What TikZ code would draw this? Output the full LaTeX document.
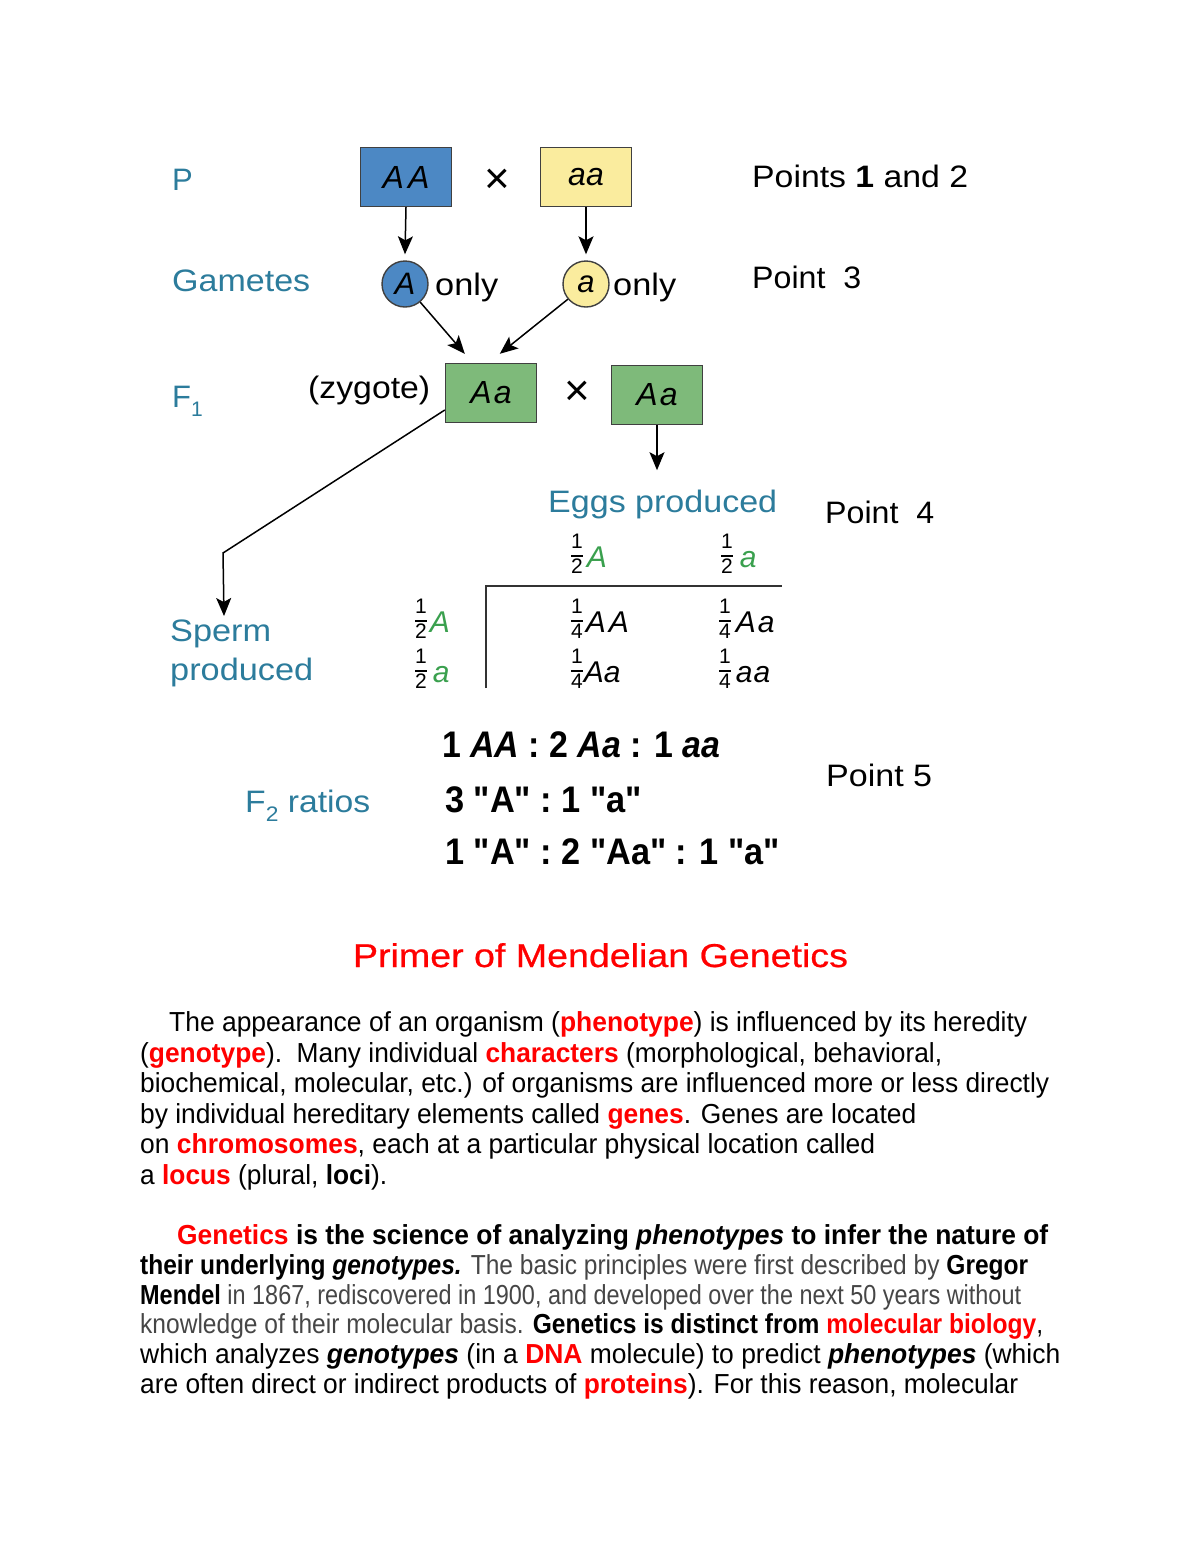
\documentclass[tikz,border=0pt]{standalone}
\usepackage{fontspec}
\setmainfont{Liberation Sans}
\usetikzlibrary{arrows.meta,calc}
\definecolor{tealc}{RGB}{44,124,156}
\definecolor{bluec}{RGB}{76,136,196}
\definecolor{yelc}{RGB}{250,236,158}
\definecolor{grnc}{RGB}{126,186,122}
\definecolor{grnt}{RGB}{58,160,78}
\definecolor{redc}{RGB}{255,0,0}
\definecolor{lightc}{RGB}{70,70,70}
\newcommand\fs[1]{\fontsize{#1}{#1}\selectfont}
\newcommand\W[2]{\resizebox{#1pt}{\height}{#2}}
\newcommand\fr[2]{\raisebox{-6pt}{\fs{21}\renewcommand\arraystretch{1.12}\setlength\arrayrulewidth{1.2pt}\begin{tabular}[b]{@{}c@{}}#1\\\hline#2\end{tabular}}}
\newcommand\rb[1]{\textcolor{redc}{\bfseries #1}}
\newcommand\lt[1]{\textcolor{lightc}{#1}}
\newcommand\bi[1]{\textbf{\textit{#1}}}
\begin{document}
\begin{tikzpicture}[x=1pt,y=-1pt,
  lbl/.style={inner sep=0,anchor=base west,text=tealc,font=\fs{31}},
  txt/.style={inner sep=0,anchor=base west,font=\fs{31}},
  ent/.style={inner sep=0,anchor=base west,font=\fs{30}},
  par/.style={inner sep=0,anchor=base west,font=\fs{27.5}},
  gbox/.style={draw=black!75,line width=1.4pt,minimum width=91pt,minimum height=59pt,inner sep=0,font=\fs{32}\itshape},
  gcirc/.style={circle,draw=black!75,line width=1.4pt,minimum size=46pt,inner sep=0,font=\fs{31}\itshape},
  cross/.style={inner sep=0,font=\fs{44}},
  arr/.style={-{Stealth[length=18pt,width=15pt,inset=4pt]},line width=1.5pt},
  gridl/.style={line width=1.2pt,draw=black!80}]
\useasboundingbox[fill=white] (0,0) rectangle (1200,1553);

% P row
\node[lbl] (P) at (172,190) {P};
\node[gbox,fill=bluec] (AA) at (406,177) {A\hspace{4pt}A};
\node[cross] (x1) at (497,181) {×};
\node[gbox,fill=yelc] (aa) at (586,177) {aa};
\node[txt] (p12) at (752,187) {\W{216}{Points \textbf{1} and 2}};

% Gametes row
\node[lbl] (gam) at (172,291) {\W{138}{Gametes}};
\node[gcirc,fill=bluec] (cA) at (405,284) {A};
\node[txt] (o1) at (435,295) {\W{63}{only}};
\node[gcirc,fill=yelc] (ca) at (586,284) {a};
\node[txt] (o2) at (613,295) {\W{63}{only}};
\node[txt] (p3) at (752,288) {\W{109}{Point\ \ 3}};

\draw[arr] (AA.south) -- ($(cA.north)+(0,-6)$);
\draw[arr] (aa.south) -- ($(ca.north)+(0,-6)$);

% F1 row
\node[lbl] (F1) at (172,407) {F\raisebox{-9pt}{\fs{21}1}};
\node[txt] (zyg) at (308,398) {\W{122}{(zygote)}};
\node[gbox,fill=grnc] (Aa1) at (491,393) {A\hspace{2pt}a};
\node[cross] (x2) at (577,393) {×};
\node[gbox,fill=grnc] (Aa2) at (657,395) {A\hspace{2pt}a};

\draw[arr] (cA.-50) -- ($(Aa1.north west)+(20,-9)$);
\draw[arr] (ca.-140) -- ($(Aa1.north west)+(55,-9)$);
\coordinate (eggtip) at ($(Aa2.south)+(0,45)$);
\draw[arr] (Aa2.south) -- (eggtip);

% Eggs
\node[lbl] (eggs) at (548,512) {\W{229}{Eggs produced}};
\node[txt] (p4) at (825,523) {\W{109}{Point\ \ 4}};
\node[ent] (hA) at (571,567) {\fr{1}{2}\hspace{4pt}\textcolor{grnt}{\itshape A}};
\node[ent] (ha) at (721,567) {\fr{1}{2}\hspace{7pt}\textcolor{grnt}{\itshape a}};

% grid
\coordinate (gtl) at (486,586);
\coordinate (gtr) at (782,586);
\coordinate (gbl) at (486,688);
\draw[gridl] (gbl) -- (gtl) -- (gtr);

\node[ent] (sA) at (415,632) {\fr{1}{2}\hspace{3pt}\textcolor{grnt}{\itshape A}};
\node[ent] (sa) at (415,682) {\fr{1}{2}\hspace{6pt}\textcolor{grnt}{\itshape a}};
\node[ent] (g11) at (571,632) {\fr{1}{4}\hspace{3pt}\itshape A\hspace{3pt}A};
\node[ent] (g12) at (719,632) {\fr{1}{4}\hspace{5pt}\itshape A\hspace{2pt}a};
\node[ent] (g21) at (571,682) {\fr{1}{4}\hspace{1pt}\itshape Aa};
\node[ent] (g22) at (719,682) {\fr{1}{4}\hspace{5pt}\itshape a\hspace{1pt}a};

% Sperm
\node[lbl] (sperm) at (170,641) {\W{101}{Sperm}};
\node[lbl] (prod) at (170,680) {\W{143}{produced}};
\coordinate (bend) at (223,553);
\coordinate (sptip) at (224,616);
\draw[arr] ($(Aa1.west)+(0,17)$) -- (bend) -- (sptip);

% F2 ratios
\node[txt,font=\fs{37}\bfseries] (r1) at (442,757) {\W{278}{1 \textit{AA} : 2 \textit{Aa} : 1 \textit{aa}}};
\node[txt,font=\fs{37}\bfseries] (r2) at (445,812) {\W{197}{3 \textquotedbl A\textquotedbl\ : 1 \textquotedbl a\textquotedbl}};
\node[txt,font=\fs{37}\bfseries] (r3) at (445,864) {\W{335}{1 \textquotedbl A\textquotedbl\ : 2 \textquotedbl Aa\textquotedbl\ : 1 \textquotedbl a\textquotedbl}};
\node[lbl] (f2) at (245,812) {\W{125}{F\raisebox{-9pt}{\fs{21}2} ratios}};
\node[txt] (p5) at (826,786) {\W{106}{Point 5}};

% Title
\node[inner sep=0,anchor=base,text=redc,font=\fs{33}\addfontfeature{FakeBold=0.6}] (title) at (600.5,967) {\W{495}{Primer of Mendelian Genetics}};

% Paragraph 1
\node[par] (a1) at (169,1031) {\W{858}{The appearance of an organism (\rb{phenotype}) is influenced by its heredity}};
\node[par] (a2) at (140,1062) {\W{802}{(\rb{genotype}).\ \ Many individual \rb{characters} (morphological, behavioral,}};
\node[par] (a3) at (140,1092) {\W{909}{biochemical, molecular, etc.) of organisms are influenced more or less directly}};
\node[par] (a4) at (140,1123) {\W{776}{by individual hereditary elements called \rb{genes}. Genes are located}};
\node[par] (a5) at (140,1153) {\W{735}{on \rb{chromosomes}, each at a particular physical location called}};
\node[par] (a6) at (140,1184) {\W{247}{a \rb{locus} (plural, \textbf{loci}).}};

% Paragraph 2
\node[par] (b1) at (177,1244) {\W{871}{\rb{Genetics} \textbf{is the science of analyzing \textit{phenotypes} to infer the nature of}}};
\node[par] (b2) at (140,1274) {\W{888}{\textbf{their underlying \textit{genotypes.}} \lt{The basic principles were first described by} \textbf{Gregor}}};
\node[par] (b3) at (140,1304) {\W{881}{\textbf{Mendel} \lt{in 1867, rediscovered in 1900, and developed over the next 50 years without}}};
\node[par] (b4) at (140,1333) {\W{903}{\lt{knowledge of their molecular basis.} \textbf{Genetics is distinct from} \rb{molecular biology},}};
\node[par] (b5) at (140,1363) {\W{920}{which analyzes \bi{genotypes} (in a \rb{DNA} molecule) to predict \bi{phenotypes} (which}};
\node[par] (b6) at (140,1393) {\W{878}{are often direct or indirect products of \rb{proteins}). For this reason, molecular}};
\end{tikzpicture}
\end{document}
